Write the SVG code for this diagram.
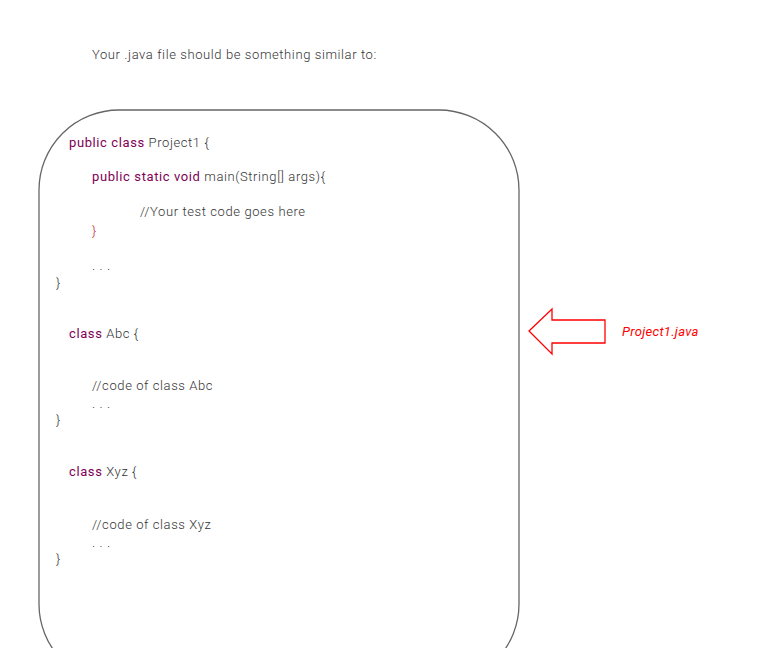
<svg xmlns="http://www.w3.org/2000/svg" width="780" height="648" viewBox="0 0 780 648">
<style>
text{font-family:Roboto,"Liberation Sans",sans-serif;font-size:13px;font-weight:300;letter-spacing:0.6px;fill:#333}
.k{fill:#7f0055;font-weight:400}
.r{fill:#c0282f}
</style>
<rect width="780" height="648" fill="#fff"/>
<text x="92" y="59">Your .java file should be something similar to:</text>
<g id="code">
<rect x="39" y="110" width="480" height="574" rx="80" ry="80" fill="none" stroke="#666" stroke-width="1.3"/>
<text x="69" y="147"><tspan class="k">public class</tspan> Project1 {</text>
<text x="92" y="181"><tspan class="k">public static void</tspan> main(String[] args){</text>
<text x="140" y="216">//Your test code goes here</text>
<text x="92" y="235" class="r">}</text>
<text x="92" y="270">. . .</text>
<text x="56" y="287">}</text>
<text x="69" y="338"><tspan class="k">class</tspan> Abc {</text>
<text x="92" y="390">//code of class Abc</text>
<text x="92" y="408">. . .</text>
<text x="56" y="424">}</text>
<text x="69" y="476"><tspan class="k">class</tspan> Xyz {</text>
<text x="92" y="529">//code of class Xyz</text>
<text x="92" y="547">. . .</text>
<text x="56" y="563">}</text>
</g>
<g id="arrow">
<polygon points="529,331 552,309 552,320 605,320 605,343 552,343 552,354" fill="#fff" stroke="#f00" stroke-width="1.3"/>
<text x="622" y="336" style="fill:#f00;font-style:italic;font-weight:400;letter-spacing:0.3px">Project1.java</text>
</g>
</svg>
